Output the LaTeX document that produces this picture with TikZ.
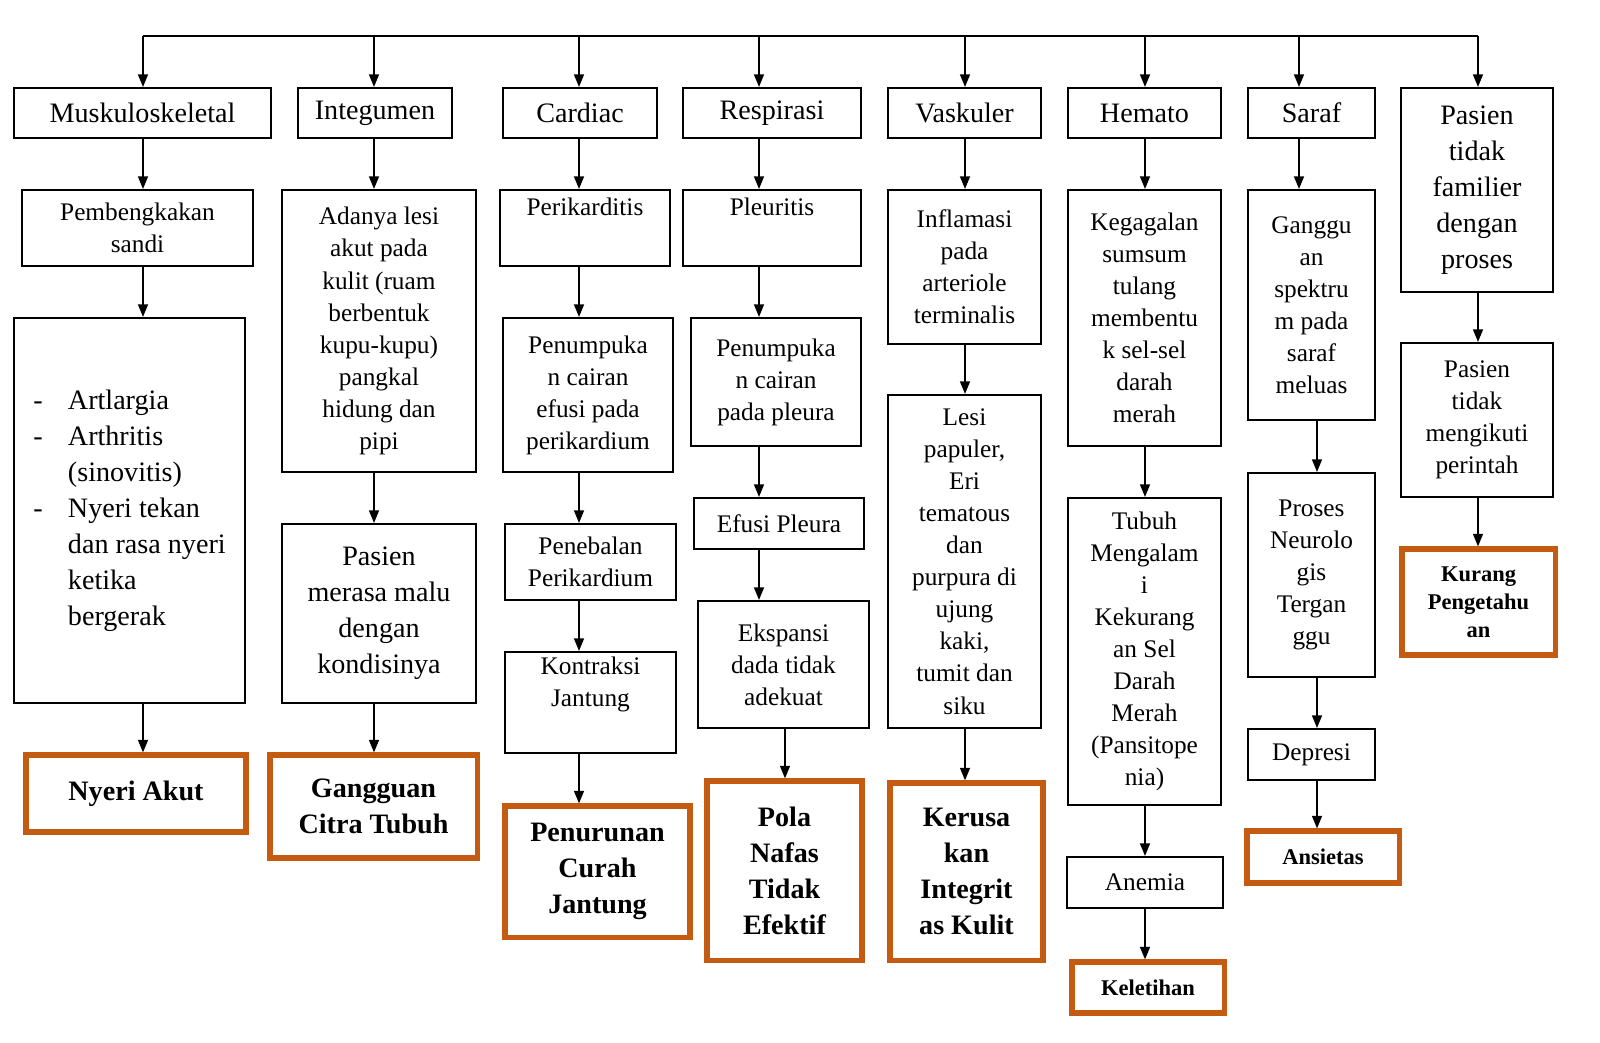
\documentclass[tikz,border=0pt]{standalone}
\usepackage{fontspec}
\setmainfont{Liberation Serif}
\usetikzlibrary{arrows.meta}
\definecolor{oranye}{HTML}{C55A11}
\begin{document}
\begin{tikzpicture}[x=0.025cm, y=-0.025cm,
    box/.style={draw=black, line width=1.4pt, align=center, inner sep=2pt, font=\fontsize{18}{22.8}\selectfont},
    judul/.style={box, font=\fontsize{20}{25.6}\selectfont},
    hasil/.style={draw=oranye, line width=3.6pt, align=center, inner sep=2pt, font=\fontsize{20}{25.6}\selectfont\bfseries},
    hasilkecil/.style={hasil, font=\fontsize{16}{20}\selectfont\bfseries},
    arr/.style={-{Triangle[length=9pt,width=7pt]}, line width=1.4pt}]
  \useasboundingbox (0,0) rectangle (1600,1042);
  % garis atas
  \coordinate (t1) at (143,36);
  \coordinate (t2) at (374,36);
  \coordinate (t3) at (579,36);
  \coordinate (t4) at (759,36);
  \coordinate (t5) at (965,36);
  \coordinate (t6) at (1145,36);
  \coordinate (t7) at (1299,36);
  \coordinate (t8) at (1478,36);
  \coordinate (s4) at (785,36);
  \coordinate (s7) at (1317,36);
  \draw[line width=1.4pt] (t1) -- (t8);

  % baris sistem
  \node[judul, minimum width=6.425cm, minimum height=1.25cm] (musk) at (142.5,113) {Muskuloskeletal};
  \node[judul, minimum width=3.85cm, minimum height=1.25cm] (integ) at (375,113) {Integumen};
  \node[judul, minimum width=3.85cm, minimum height=1.25cm] (cardiac) at (580,113) {Cardiac};
  \node[judul, minimum width=4.45cm, minimum height=1.25cm] (resp) at (772,113) {Respirasi};
  \node[judul, minimum width=3.825cm, minimum height=1.25cm] (vask) at (964.5,113) {Vaskuler};
  \node[judul, minimum width=3.825cm, minimum height=1.25cm] (hemato) at (1144.5,113) {Hemato};
  \node[judul, minimum width=3.175cm, minimum height=1.25cm] (saraf) at (1311.5,113) {Saraf};
  \node[judul, minimum width=3.8cm, minimum height=5.1cm] (familier) at (1477,190) {Pasien\\tidak\\familier\\dengan\\proses};

  % kolom 1
  \node[box, minimum width=5.775cm, minimum height=1.9cm] (bengkak) at (137.5,228) {Pembengkakan\\sandi};
  \node[judul, minimum width=5.775cm, minimum height=9.625cm] (gejala) at (129.5,510.5) {%
    \begin{tabular}{@{}l@{\hspace{0.9em}}l@{}}
    - & Artlargia\\
    - & Arthritis\\
      & (sinovitis)\\
    - & Nyeri tekan\\
      & dan rasa nyeri\\
      & ketika\\
      & bergerak
    \end{tabular}};
  \node[hasil, minimum width=5.5cm, minimum height=1.925cm] (nyeri) at (136,793.5) {Nyeri Akut};

  % kolom 2
  \node[box, minimum width=4.85cm, minimum height=7.05cm] (lesi) at (379,331) {Adanya lesi\\akut pada\\kulit (ruam\\berbentuk\\kupu-kupu)\\pangkal\\hidung dan\\pipi};
  \node[judul, minimum width=4.85cm, minimum height=4.475cm] (malu) at (379,613.5) {Pasien\\merasa malu\\dengan\\kondisinya};
  \node[hasil, minimum width=5.175cm, minimum height=2.575cm] (citra) at (373.5,806.5) {Gangguan\\Citra Tubuh};

  % kolom 3
  \node[box, minimum width=4.25cm, minimum height=1.9cm] (peri) at (585,228) {Perikarditis\\\strut};
  \node[box, minimum width=4.25cm, minimum height=3.85cm] (efusiperi) at (588,395) {Penumpuka\\n cairan\\efusi pada\\perikardium};
  \node[box, minimum width=4.275cm, minimum height=1.9cm] (tebal) at (590.5,562) {Penebalan\\Perikardium};
  \node[box, minimum width=4.275cm, minimum height=2.525cm] (kontraksi) at (590.5,702.5) {Kontraksi\\Jantung\\\strut};
  \node[hasil, minimum width=4.625cm, minimum height=3.275cm] (curah) at (597.5,871.5) {Penurunan\\Curah\\Jantung};

  % kolom 4
  \node[box, minimum width=4.45cm, minimum height=1.9cm] (pleuritis) at (772,228) {Pleuritis\\\strut};
  \node[box, minimum width=4.25cm, minimum height=3.2cm] (cairanpl) at (776,382) {Penumpuka\\n cairan\\pada pleura};
  \node[box, minimum width=4.25cm, minimum height=1.275cm] (efusipl) at (779,523.5) {Efusi Pleura};
  \node[box, minimum width=4.275cm, minimum height=3.175cm] (ekspansi) at (783.5,664.5) {Ekspansi\\dada tidak\\adekuat};
  \node[hasil, minimum width=3.875cm, minimum height=4.475cm] (pola) at (784.5,870.5) {Pola\\Nafas\\Tidak\\Efektif};

  % kolom 5
  \node[box, minimum width=3.825cm, minimum height=3.85cm] (inflamasi) at (964.5,267) {Inflamasi\\pada\\arteriole\\terminalis};
  \node[box, minimum width=3.825cm, minimum height=8.325cm] (papuler) at (964.5,561.5) {Lesi\\papuler,\\Eri\\tematous\\dan\\purpura di\\ujung\\kaki,\\tumit dan\\siku};
  \node[hasil, minimum width=3.825cm, minimum height=4.425cm] (kulit) at (966.5,871.5) {Kerusa\\kan\\Integrit\\as Kulit};

  % kolom 6
  \node[box, minimum width=3.825cm, minimum height=6.4cm] (gagal) at (1144.5,318) {Kegagalan\\sumsum\\tulang\\membentu\\k sel-sel\\darah\\merah};
  \node[box, minimum width=3.825cm, minimum height=7.675cm] (sel) at (1144.5,651.5) {Tubuh\\Mengalam\\i\\Kekurang\\an Sel\\Darah\\Merah\\(Pansitope\\nia)};
  \node[box, minimum width=3.9cm, minimum height=1.275cm] (anemia) at (1145,882.5) {Anemia};
  \node[hasilkecil, minimum width=3.8cm, minimum height=1.275cm] (letih) at (1148,987.5) {Keletihan};

  % kolom 7
  \node[box, minimum width=3.175cm, minimum height=5.75cm] (ganggu) at (1311.5,305) {Ganggu\\an\\spektru\\m pada\\saraf\\meluas};
  \node[box, minimum width=3.175cm, minimum height=5.1cm] (neuro) at (1311.5,575) {Proses\\Neurolo\\gis\\Tergan\\ggu};
  \node[box, minimum width=3.175cm, minimum height=1.275cm] (depresi) at (1311.5,754.5) {Depresi};
  \node[hasilkecil, minimum width=3.8cm, minimum height=1.3cm] (ansietas) at (1323,857) {Ansietas};

  % kolom 8
  \node[box, minimum width=3.8cm, minimum height=3.85cm] (ikut) at (1477,420) {Pasien\\tidak\\mengikuti\\perintah};
  \node[hasilkecil, minimum width=3.825cm, minimum height=2.65cm] (tahu) at (1478.5,602) {Kurang\\Pengetahu\\an};

  % panah dari garis atas
  \draw[arr] (t1) -- (t1 |- musk.north);
  \draw[arr] (t2) -- (t2 |- integ.north);
  \draw[arr] (t3) -- (t3 |- cardiac.north);
  \draw[arr] (t4) -- (t4 |- resp.north);
  \draw[arr] (t5) -- (t5 |- vask.north);
  \draw[arr] (t6) -- (t6 |- hemato.north);
  \draw[arr] (t7) -- (t7 |- saraf.north);
  \draw[arr] (t8) -- (t8 |- familier.north);

  % panah dalam kolom
  \draw[arr] (musk.south -| t1) -- (bengkak.north -| t1);
  \draw[arr] (bengkak.south -| t1) -- (gejala.north -| t1);
  \draw[arr] (gejala.south -| t1) -- (nyeri.north -| t1);

  \draw[arr] (integ.south -| t2) -- (lesi.north -| t2);
  \draw[arr] (lesi.south -| t2) -- (malu.north -| t2);
  \draw[arr] (malu.south -| t2) -- (citra.north -| t2);

  \draw[arr] (cardiac.south -| t3) -- (peri.north -| t3);
  \draw[arr] (peri.south -| t3) -- (efusiperi.north -| t3);
  \draw[arr] (efusiperi.south -| t3) -- (tebal.north -| t3);
  \draw[arr] (tebal.south -| t3) -- (kontraksi.north -| t3);
  \draw[arr] (kontraksi.south -| t3) -- (curah.north -| t3);

  \draw[arr] (resp.south -| t4) -- (pleuritis.north -| t4);
  \draw[arr] (pleuritis.south -| t4) -- (cairanpl.north -| t4);
  \draw[arr] (cairanpl.south -| t4) -- (efusipl.north -| t4);
  \draw[arr] (efusipl.south -| t4) -- (ekspansi.north -| t4);
  \draw[arr] (ekspansi.south -| s4) -- (pola.north -| s4);

  \draw[arr] (vask.south -| t5) -- (inflamasi.north -| t5);
  \draw[arr] (inflamasi.south -| t5) -- (papuler.north -| t5);
  \draw[arr] (papuler.south -| t5) -- (kulit.north -| t5);

  \draw[arr] (hemato.south -| t6) -- (gagal.north -| t6);
  \draw[arr] (gagal.south -| t6) -- (sel.north -| t6);
  \draw[arr] (sel.south -| t6) -- (anemia.north -| t6);
  \draw[arr] (anemia.south -| t6) -- (letih.north -| t6);

  \draw[arr] (saraf.south -| t7) -- (ganggu.north -| t7);
  \draw[arr] (ganggu.south -| s7) -- (neuro.north -| s7);
  \draw[arr] (neuro.south -| s7) -- (depresi.north -| s7);
  \draw[arr] (depresi.south -| s7) -- (ansietas.north -| s7);

  \draw[arr] (familier.south -| t8) -- (ikut.north -| t8);
  \draw[arr] (ikut.south -| t8) -- (tahu.north -| t8);
\end{tikzpicture}
\end{document}
